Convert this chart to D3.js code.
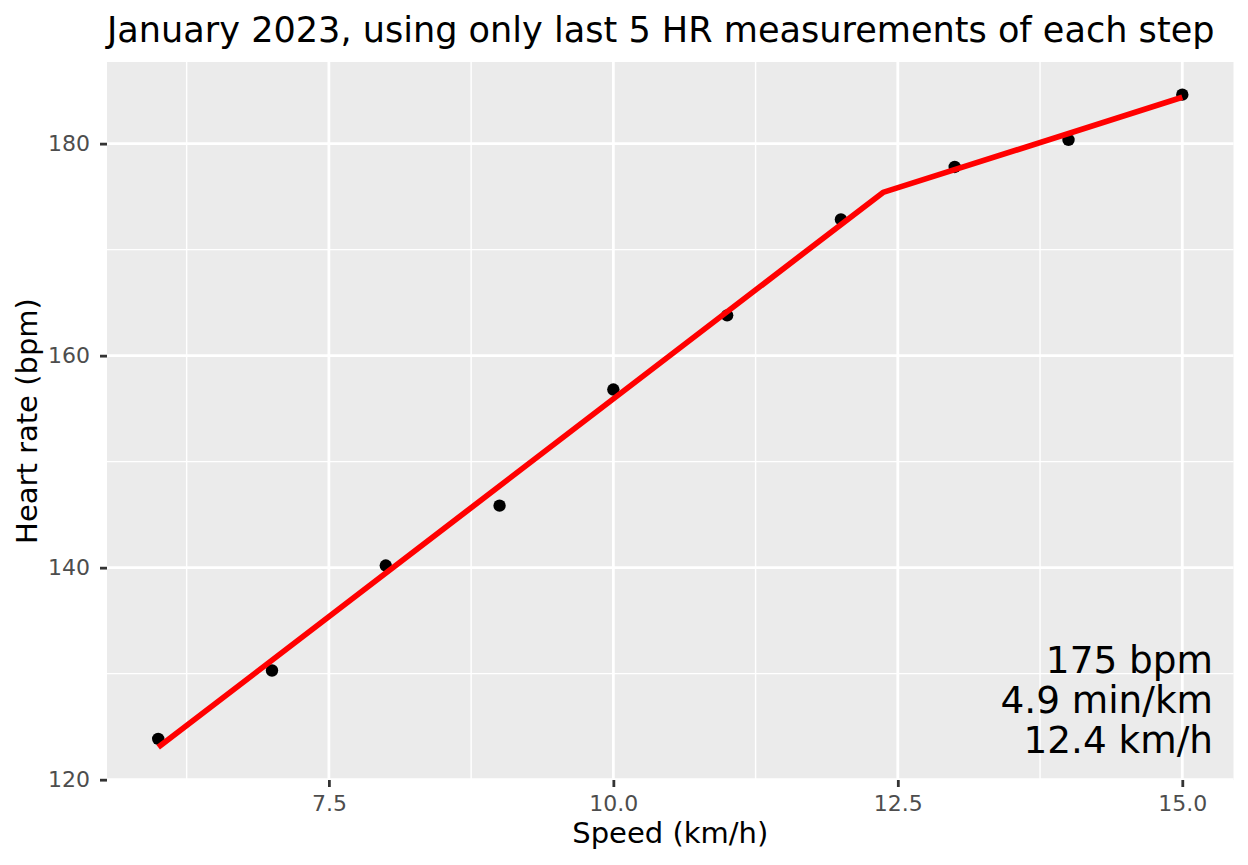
<!DOCTYPE html>
<html>
<head>
<meta charset="utf-8">
<script src="https://cdn.jsdelivr.net/npm/d3@7"></script>
<style>
  body { margin: 0; background: #fff; }
  svg { display: block; font-family: "DejaVu Sans", sans-serif; }
</style>
</head>
<body>
<div id="chart"></div>
<script>
// measured points: speed step vs heart rate
const speed = [6, 7, 8, 9, 10, 11, 12, 13, 14, 15];
const heartRate = [123.85, 130.3, 140.2, 145.85, 156.8, 163.8, 172.85, 177.8, 180.35, 184.62];

// piecewise linear fit
const fitSpeed = [6, 12.37, 15];
const fitHR = [123.05, 175.4, 184.37];

const xTicks = [7.5, 10.0, 12.5, 15.0];
const xMinor = [6.25, 8.75, 11.25, 13.75];
const yTicks = [120, 140, 160, 180];
const yMinor = [130, 150, 170];

const annotation = ["175 bpm", "4.9 min/km", "12.4 km/h"];

const W = 1248, H = 865;
const margin = {top: 62, right: 14.5, bottom: 85, left: 107};
const width = W - margin.left - margin.right,
      height = H - margin.top - margin.bottom;

const svg = d3.select("#chart").append("svg")
    .attr("width", W).attr("height", H);

const g = svg.append("g")
    .attr("transform", `translate(${margin.left},${margin.top})`);

const x = d3.scaleLinear().domain([5.55, 15.45]).range([0, width]);
const y = d3.scaleLinear().domain([119.97, 187.70]).range([height, 0]);

// panel background
g.append("rect")
    .attr("width", width).attr("height", height)
    .attr("fill", "#EBEBEB");

// minor grid
g.selectAll(".xminor").data(xMinor).join("line")
    .attr("x1", d => x(d)).attr("x2", d => x(d))
    .attr("y1", 0).attr("y2", height)
    .attr("stroke", "#fff").attr("stroke-width", 1.4);
g.selectAll(".yminor").data(yMinor).join("line")
    .attr("y1", d => y(d)).attr("y2", d => y(d))
    .attr("x1", 0).attr("x2", width)
    .attr("stroke", "#fff").attr("stroke-width", 1.4);

// major grid
g.selectAll(".xmajor").data(xTicks).join("line")
    .attr("x1", d => x(d)).attr("x2", d => x(d))
    .attr("y1", 0).attr("y2", height)
    .attr("stroke", "#fff").attr("stroke-width", 2.8);
g.selectAll(".ymajor").data(yTicks).join("line")
    .attr("y1", d => y(d)).attr("y2", d => y(d))
    .attr("x1", 0).attr("x2", width)
    .attr("stroke", "#fff").attr("stroke-width", 2.8);

// axes
const xAxis = g.append("g")
    .attr("transform", `translate(0,${height})`)
    .call(d3.axisBottom(x).tickValues(xTicks).tickFormat(d3.format(".1f")).tickSize(7).tickPadding(5));
const yAxis = g.append("g")
    .call(d3.axisLeft(y).tickValues(yTicks).tickFormat(d3.format("d")).tickSize(7).tickPadding(10));

[xAxis, yAxis].forEach(a => {
  a.select(".domain").remove();
  a.selectAll(".tick line").attr("stroke", "#333333").attr("stroke-width", 2.8);
  a.selectAll(".tick text")
    .attr("fill", "#4D4D4D")
    .style("font-family", "DejaVu Sans")
    .style("font-size", "22px");
});
xAxis.selectAll(".tick text").attr("dy", "0.86em");

// points
g.selectAll(".pt").data(speed).join("circle")
    .attr("cx", d => x(d))
    .attr("cy", (d, i) => y(heartRate[i]))
    .attr("r", 6.2)
    .attr("fill", "#000");

// fitted line
g.append("path")
    .datum(fitSpeed.map((s, i) => [s, fitHR[i]]))
    .attr("fill", "none")
    .attr("stroke", "#FF0000")
    .attr("stroke-width", 5.7)
    .attr("stroke-linejoin", "round")
    .attr("d", d3.line().x(d => x(d[0])).y(d => y(d[1])));

// annotation
g.append("text")
    .attr("text-anchor", "end")
    .attr("fill", "#000")
    .style("font-size", "37.4px")
    .selectAll("tspan").data(annotation).join("tspan")
      .attr("x", 1213 - margin.left)
      .attr("y", (d, i) => 673 - margin.top + i * 40)
      .text(d => d);

// titles
svg.append("text")
    .attr("x", margin.left)
    .attr("y", 42)
    .attr("fill", "#000")
    .style("font-size", "35.1px")
    .text("January 2023, using only last 5 HR measurements of each step");

svg.append("text")
    .attr("text-anchor", "middle")
    .attr("x", margin.left + width / 2)
    .attr("y", 843)
    .attr("fill", "#000")
    .style("font-size", "29px")
    .text("Speed (km/h)");

svg.append("text")
    .attr("text-anchor", "middle")
    .attr("transform", `translate(37,${margin.top + height / 2}) rotate(-90)`)
    .attr("fill", "#000")
    .style("font-size", "29px")
    .text("Heart rate (bpm)");
</script>
</body>
</html>
